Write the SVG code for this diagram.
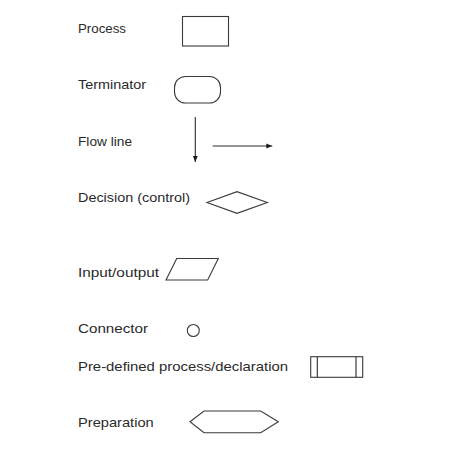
<svg xmlns="http://www.w3.org/2000/svg" width="474" height="458" viewBox="0 0 474 458">
<style>
text{font-family:"Liberation Sans",Arial,sans-serif;font-size:13.5px;fill:#2a2a2a}
.s{fill:#fff;stroke:#3a3a3a;stroke-width:1.1}
.l{fill:none;stroke:#2a2a2a;stroke-width:1.1}
</style>
<defs>
<marker id="ah" viewBox="0 0 10 10" refX="10" refY="5" markerWidth="6" markerHeight="6" orient="auto" markerUnits="userSpaceOnUse">
<path d="M0,1 L10,5 L0,9 z" fill="#1a1a1a"/>
</marker>
</defs>
<rect width="474" height="458" fill="#fff"/>
<g id="process">
<text x="78" y="33" textLength="48" lengthAdjust="spacingAndGlyphs">Process</text>
<rect class="s" x="182.5" y="16.5" width="46" height="29.5"/>
</g>
<g id="terminator">
<text x="78" y="89" textLength="68" lengthAdjust="spacingAndGlyphs">Terminator</text>
<rect class="s" x="174.5" y="76.5" width="46" height="26.5" rx="11" ry="11"/>
</g>
<g id="flowline">
<text x="78" y="145.5" textLength="54" lengthAdjust="spacingAndGlyphs">Flow line</text>
</g>
<g id="decision">
<text x="78" y="202" textLength="112" lengthAdjust="spacingAndGlyphs">Decision (control)</text>
<polygon class="s" points="207,202.5 237,191.7 267.3,202.5 237,213.3"/>
</g>
<g id="io">
<text x="78" y="277" textLength="81" lengthAdjust="spacingAndGlyphs">Input/output</text>
<polygon class="s" points="176.7,258.5 218.3,258.5 207.7,280 166,280"/>
</g>
<g id="connector">
<text x="78" y="333" textLength="70" lengthAdjust="spacingAndGlyphs">Connector</text>
<circle class="s" cx="193.3" cy="330.5" r="6"/>
</g>
<g id="predefined">
<text x="78" y="370.5" textLength="210" lengthAdjust="spacingAndGlyphs">Pre-defined process/declaration</text>
<rect class="s" x="310.7" y="356.7" width="52" height="20.6"/>
<line class="l" x1="317.3" y1="356.7" x2="317.3" y2="377.3"/>
<line class="l" x1="356" y1="356.7" x2="356" y2="377.3"/>
</g>
<g id="preparation">
<text x="78" y="426.5" textLength="75.7" lengthAdjust="spacingAndGlyphs">Preparation</text>
<polygon class="s" points="190,421.7 204,411 260.7,411 278.3,421.7 260.7,432.7 204,432.7"/>
</g>
<g id="connectors">
<line class="l" x1="195.3" y1="117" x2="195.3" y2="162" marker-end="url(#ah)"/>
<line class="l" x1="212.7" y1="146" x2="272.3" y2="146" marker-end="url(#ah)"/>
</g>
</svg>
